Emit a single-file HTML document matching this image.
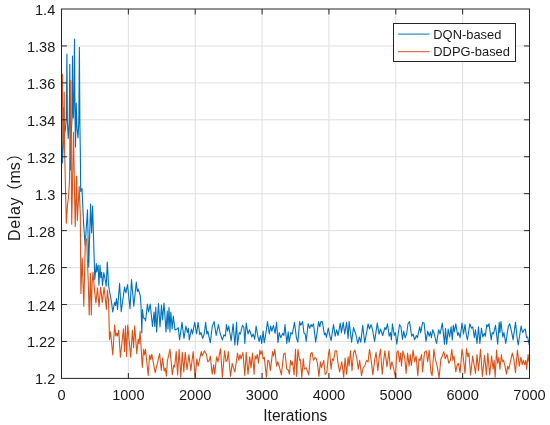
<!DOCTYPE html><html><head><meta charset="utf-8"><title>Delay</title><style>html,body{margin:0;padding:0;background:#fff}svg{display:block}text{font-family:"Liberation Sans","Noto Sans CJK SC",sans-serif;fill:#1a1a1a}</style></head><body>
<svg width="550" height="425" viewBox="0 0 550 425">
<rect width="550" height="425" fill="#fff"/>
<path d="M128.36 9.0V378.4M195.21 9.0V378.4M262.07 9.0V378.4M328.93 9.0V378.4M395.79 9.0V378.4M462.64 9.0V378.4M61.5 341.46H529.5M61.5 304.52H529.5M61.5 267.58H529.5M61.5 230.64H529.5M61.5 193.70H529.5M61.5 156.76H529.5M61.5 119.82H529.5M61.5 82.88H529.5M61.5 45.94H529.5" stroke="#dfdfdf" stroke-width="1" fill="none"/>
<path d="M61.5 68.0L61.9 125.0L62.4 163.0L63.2 146.0L64.3 135.0L65.3 130.0L66.3 118.0L66.9 54.0L67.4 122.0L68.2 138.4L69.2 122.0L69.8 64.3L70.1 130.0L70.5 170.0L71.2 135.0L72.0 118.0L72.5 56.0L72.9 105.0L73.3 118.0L73.9 100.0L74.5 39.0L75.0 115.0L75.5 147.0L76.2 103.0L77.0 128.0L78.0 138.0L78.8 122.0L79.4 47.2L79.9 125.0L80.3 150.0L80.7 191.5L82.0 188.5L83.5 222.0L85.1 245.0L87.5 209.8L88.7 267.0L90.6 204.0L91.6 233.0L92.6 206.0L93.6 240.0L94.8 279.5L96.3 263.5L96.8 272.0L98.1 265.0L98.9 285.2L100.0 265.3L100.8 277.7L101.6 272.3L102.5 285.5L103.8 272.5L105.2 280.0L106.2 286.2L107.3 262.0L108.6 286.0L111.5 302.0L112.7 312.0L114.6 302.4L115.5 305.5L116.5 298.5L117.5 309.4L119.6 283.3L121.2 311.6L124.6 287.1L125.9 292.8L127.5 284.5L130.0 308.7L131.5 279.5L133.8 306.2L136.3 282.0L137.3 291.5L138.2 289.0L140.2 295.4L141.0 305.0L141.8 333.0L142.5 309.5L143.4 317.5L145.0 319.0L145.6 321.0L147.4 304.0L148.6 312.0L150.2 304.0L152.5 326.5L154.0 312.0L154.8 326.5L155.8 307.0L156.6 332.0L158.5 303.5L160.0 327.0L161.5 305.0L162.5 320.0L164.0 303.0L166.0 332.0L167.2 311.0L168.0 329.0L169.0 307.5L170.0 332.0L170.8 312.0L172.2 329.0L173.3 316.0L175.0 330.0L177.0 329.0L178.2 327.5L179.6 339.9L182.0 322.4L184.0 338.4L185.9 326.0L187.4 332.6L188.4 328.2L189.3 339.9L191.4 329.0L192.5 334.0L194.7 322.4L196.6 334.0L198.1 322.4L199.8 334.8L201.0 332.6L202.7 338.4L204.2 334.0L205.7 322.4L206.8 334.0L207.8 331.1L210.3 342.8L212.2 326.8L214.1 321.6L216.2 335.5L218.4 324.6L220.3 334.0L222.4 339.9L223.9 334.8L225.4 336.2L226.4 324.6L227.6 331.1L228.7 326.0L231.2 340.6L233.1 323.8L234.9 345.0L236.6 322.4L237.5 345.0L239.2 332.6L240.4 334.0L242.4 325.3L243.9 327.5L244.8 343.5L246.2 323.1L248.0 334.0L249.5 329.7L250.6 333.0L251.8 337.0L253.2 334.0L254.7 339.2L256.1 326.0L257.6 334.8L259.1 341.4L260.5 335.5L261.7 343.5L263.1 331.1L264.2 342.8L265.3 337.0L267.5 321.6L269.3 334.0L270.7 326.0L271.9 331.1L273.4 325.3L275.1 333.3L276.6 322.4L278.0 342.8L279.2 332.6L280.7 337.7L282.8 333.3L283.9 335.5L285.0 324.6L286.8 343.5L288.2 331.9L289.1 342.1L290.9 332.6L292.3 334.0L294.5 322.4L296.4 337.7L297.9 342.1L299.6 321.6L300.8 325.3L302.6 321.6L304.0 333.3L305.2 334.0L306.2 341.4L308.1 323.8L309.6 328.2L311.0 324.6L312.0 326.8L313.5 323.8L315.7 342.1L318.6 321.6L319.8 326.8L320.8 321.6L322.3 321.6L324.5 334.8L325.5 333.0L326.4 337.5L328.3 328.0L329.4 334.0L331.1 340.6L333.5 324.6L335.2 336.2L336.7 329.7L338.1 335.5L340.3 323.1L341.4 332.6L343.2 322.4L344.7 334.0L346.6 322.4L348.1 338.4L349.1 321.6L351.6 342.1L353.5 327.5L355.7 334.0L357.8 343.5L359.3 337.0L360.8 342.1L362.7 325.3L364.7 342.8L366.6 332.6L368.1 323.8L369.5 329.0L371.0 324.6L372.4 329.0L374.6 341.4L377.3 323.1L379.0 334.0L380.5 329.0L382.7 335.5L384.9 327.5L386.0 329.7L387.5 323.8L389.2 336.2L390.4 332.6L391.4 339.9L392.4 323.8L394.3 335.5L395.4 332.6L396.8 344.3L399.5 324.6L400.9 326.8L402.5 339.5L403.7 331.1L405.1 337.7L406.6 334.0L408.0 323.8L409.5 321.6L411.7 336.2L413.1 334.0L414.6 339.9L416.4 335.5L417.5 337.7L419.7 326.8L420.7 332.6L422.6 322.4L424.1 323.1L426.0 341.4L427.7 331.1L429.2 336.2L430.4 331.9L431.4 337.7L432.8 329.7L434.3 334.0L436.5 343.5L438.7 329.7L440.1 334.0L442.3 323.1L444.5 344.3L445.5 328.2L446.7 344.3L448.2 329.0L449.6 337.0L451.1 326.8L452.3 339.9L453.3 325.3L454.3 331.9L455.8 323.8L457.7 335.5L458.7 332.6L460.1 337.7L462.0 323.1L463.5 334.0L465.0 324.6L466.4 335.5L467.4 339.9L469.8 323.8L471.5 328.2L472.8 326.8L474.4 337.7L475.5 329.7L477.0 343.5L478.5 326.8L479.9 343.5L481.4 328.2L482.8 337.0L484.3 333.3L485.3 336.2L486.8 324.6L487.8 326.8L489.0 323.8L491.2 339.9L492.2 332.6L493.4 334.0L495.5 325.3L497.7 344.3L499.2 322.4L499.9 332.6L500.9 321.6L502.8 337.0L503.9 332.6L505.8 343.5L508.2 326.8L509.7 323.8L511.6 331.9L513.1 339.9L515.5 322.4L517.0 337.0L518.2 345.0L521.1 326.0L522.6 332.6L523.7 330.4L525.2 329.0L526.6 337.7L527.7 337.0L529.2 345.0" stroke="#0072BD" stroke-width="1.1" fill="none" stroke-linejoin="round"/>
<path d="M61.5 104.0L62.0 84.0L62.4 74.2L62.8 122.0L63.1 147.0L63.5 108.0L63.8 138.0L64.2 92.0L64.6 150.0L65.3 180.0L66.3 223.2L67.6 204.0L68.7 195.0L69.5 180.0L70.3 120.0L70.8 80.6L71.2 150.0L71.7 224.2L72.6 180.0L73.5 132.2L74.3 180.0L75.2 226.4L76.5 176.0L77.3 220.6L79.2 186.5L80.3 215.0L80.9 293.5L82.2 258.0L83.8 306.2L85.4 238.3L86.1 241.0L86.6 238.7L88.3 283.0L89.2 315.0L90.4 273.3L91.3 315.0L92.1 284.0L93.0 272.0L94.5 290.0L95.9 303.0L97.5 287.7L99.0 306.8L100.6 287.0L102.3 302.4L104.1 287.0L106.4 309.4L107.4 290.3L108.5 300.0L109.5 339.7L110.5 331.7L112.8 355.0L114.6 325.1L115.8 336.0L116.8 333.1L117.5 336.0L118.7 330.2L120.4 357.2L123.4 328.8L124.5 351.4L125.5 325.8L126.6 356.5L127.7 325.1L130.7 357.2L132.4 330.2L133.6 347.7L134.7 325.8L136.8 353.6L138.2 339.0L139.1 344.0L140.1 331.0L142.3 367.4L143.5 349.2L144.5 355.0L145.5 349.2L148.2 375.5L149.6 355.0L150.7 359.4L151.8 354.3L155.2 372.6L157.2 363.8L159.6 353.6L161.3 370.4L162.5 358.0L164.2 371.0L165.3 368.0L166.4 376.2L167.4 361.0L170.0 349.2L172.3 374.7L173.7 365.3L174.6 367.0L176.2 351.6L177.6 374.9L179.1 349.4L180.8 377.1L182.3 352.3L183.8 372.0L185.2 352.3L187.0 369.8L188.9 354.5L190.8 370.6L193.2 351.6L195.1 377.1L196.9 358.9L198.1 366.2L201.3 351.6L202.0 356.0L204.6 350.8L206.4 354.5L207.8 361.8L209.3 360.3L210.3 356.0L212.2 374.2L213.7 364.7L214.7 374.2L216.6 356.7L218.0 361.8L220.5 348.7L222.4 377.1L224.6 350.8L226.1 361.8L227.3 359.6L228.3 351.6L230.5 376.4L232.2 363.3L233.4 367.6L234.9 372.0L237.5 353.0L238.9 360.3L240.0 354.5L241.0 358.9L242.9 352.3L244.8 375.7L246.2 352.3L248.0 374.2L249.7 356.7L251.0 368.0L252.5 353.0L254.1 374.2L255.1 356.0L256.1 358.9L257.3 354.5L258.5 363.3L259.9 350.1L260.9 354.5L262.0 350.8L263.1 358.9L264.3 357.4L266.4 377.1L267.8 360.3L269.0 361.1L270.4 370.6L272.6 351.6L273.6 356.0L274.8 349.4L276.6 366.2L277.7 361.8L279.2 366.2L281.4 374.9L283.6 354.5L285.0 353.0L286.8 369.1L288.2 369.8L289.4 374.2L290.6 360.3L291.6 364.7L292.6 361.8L294.1 374.9L295.5 349.4L296.7 376.4L297.9 349.4L299.6 360.3L300.4 359.6L301.8 377.1L303.3 358.9L304.3 369.1L306.2 367.6L307.2 370.6L308.7 374.9L310.6 353.8L312.0 352.3L313.5 360.3L315.0 357.4L316.4 358.9L317.4 363.3L318.9 376.4L320.4 361.8L321.5 367.6L323.7 360.3L325.2 374.5L326.8 372.7L328.6 353.0L329.4 349.4L331.1 369.1L332.3 358.9L333.5 360.3L335.2 350.8L336.7 350.8L337.8 361.8L339.6 372.0L341.8 361.8L343.7 377.1L345.1 358.1L346.6 374.2L348.1 356.7L349.1 366.2L350.5 350.8L352.0 370.6L353.5 353.0L354.9 350.1L356.8 358.1L358.3 369.1L359.7 360.3L361.5 375.7L363.2 367.6L364.7 366.2L366.6 360.3L368.1 361.8L369.5 349.4L371.0 358.9L372.9 374.9L374.6 360.3L376.1 352.3L377.8 370.6L379.3 356.0L380.5 349.4L382.2 374.2L383.7 360.3L384.9 350.8L387.0 366.9L388.9 350.8L390.4 369.1L391.9 361.8L393.3 366.9L395.4 377.1L396.8 352.3L398.0 350.8L399.5 361.8L400.6 353.0L401.5 366.2L402.9 350.8L404.7 357.4L406.1 373.5L407.6 353.0L409.1 366.2L410.2 354.5L411.4 365.4L413.1 350.1L414.6 361.8L416.1 356.0L417.8 375.7L419.0 358.9L420.1 360.3L421.6 354.5L422.6 372.0L424.5 352.3L426.3 350.8L427.7 361.8L429.2 350.1L430.9 372.0L432.1 375.7L433.9 349.4L435.3 358.9L437.2 366.2L439.1 377.8L440.9 358.9L442.3 356.0L443.8 351.6L445.3 358.9L447.0 354.5L448.9 363.3L450.4 360.3L451.8 349.4L452.8 360.3L454.0 356.0L455.8 372.0L457.2 364.7L458.4 363.3L460.1 372.7L462.0 349.4L463.1 356.0L465.0 373.5L466.4 348.7L467.9 356.7L468.9 353.0L470.6 375.0L471.6 366.2L472.6 356.0L474.1 364.7L475.5 373.5L477.0 354.5L478.5 370.6L480.5 349.4L482.4 376.4L484.6 355.2L486.4 374.9L487.8 353.0L489.7 374.9L491.6 356.0L493.1 369.1L494.1 360.3L495.1 377.1L496.6 350.1L497.7 363.3L498.9 357.4L499.9 369.1L501.4 354.5L502.4 361.8L503.6 360.3L505.0 366.2L506.5 374.2L507.7 366.2L508.7 369.1L510.1 363.3L512.3 353.0L513.8 358.9L515.5 372.7L517.4 350.1L519.3 366.2L520.8 357.4L522.3 364.7L523.3 360.3L524.7 364.7L525.8 360.3L526.6 369.1L528.1 354.5L528.9 361.8" stroke="#D95319" stroke-width="1.1" fill="none" stroke-linejoin="round"/>
<rect x="61.5" y="9.0" width="468.0" height="369.4" fill="none" stroke="#262626" stroke-width="1"/>
<path d="M128.36 378.4v-5.4M128.36 9.0v5.4M195.21 378.4v-5.4M195.21 9.0v5.4M262.07 378.4v-5.4M262.07 9.0v5.4M328.93 378.4v-5.4M328.93 9.0v5.4M395.79 378.4v-5.4M395.79 9.0v5.4M462.64 378.4v-5.4M462.64 9.0v5.4M61.5 341.46h5.4M529.5 341.46h-5.4M61.5 304.52h5.4M529.5 304.52h-5.4M61.5 267.58h5.4M529.5 267.58h-5.4M61.5 230.64h5.4M529.5 230.64h-5.4M61.5 193.70h5.4M529.5 193.70h-5.4M61.5 156.76h5.4M529.5 156.76h-5.4M61.5 119.82h5.4M529.5 119.82h-5.4M61.5 82.88h5.4M529.5 82.88h-5.4M61.5 45.94h5.4M529.5 45.94h-5.4" stroke="#262626" stroke-width="1" fill="none"/>
<text x="61.50" y="400" font-size="14.6" text-anchor="middle">0</text>
<text x="128.36" y="400" font-size="14.6" text-anchor="middle">1000</text>
<text x="195.21" y="400" font-size="14.6" text-anchor="middle">2000</text>
<text x="262.07" y="400" font-size="14.6" text-anchor="middle">3000</text>
<text x="328.93" y="400" font-size="14.6" text-anchor="middle">4000</text>
<text x="395.79" y="400" font-size="14.6" text-anchor="middle">5000</text>
<text x="462.64" y="400" font-size="14.6" text-anchor="middle">6000</text>
<text x="529.50" y="400" font-size="14.6" text-anchor="middle">7000</text>
<text x="55.3" y="384.40" font-size="14.6" text-anchor="end">1.2</text>
<text x="55.3" y="347.46" font-size="14.6" text-anchor="end">1.22</text>
<text x="55.3" y="310.52" font-size="14.6" text-anchor="end">1.24</text>
<text x="55.3" y="273.58" font-size="14.6" text-anchor="end">1.26</text>
<text x="55.3" y="236.64" font-size="14.6" text-anchor="end">1.28</text>
<text x="55.3" y="199.70" font-size="14.6" text-anchor="end">1.3</text>
<text x="55.3" y="162.76" font-size="14.6" text-anchor="end">1.32</text>
<text x="55.3" y="125.82" font-size="14.6" text-anchor="end">1.34</text>
<text x="55.3" y="88.88" font-size="14.6" text-anchor="end">1.36</text>
<text x="55.3" y="51.94" font-size="14.6" text-anchor="end">1.38</text>
<text x="55.3" y="15.00" font-size="14.6" text-anchor="end">1.4</text>
<text x="295.3" y="421.3" font-size="15.6" text-anchor="middle">Iterations</text>
<text transform="translate(20 240.9) rotate(-90)" font-size="16"><tspan x="0" letter-spacing="0.65">Delay</tspan><tspan x="41.4">（ms</tspan><tspan x="79.6">）</tspan></text>
<rect x="393.5" y="23.5" width="122" height="38" fill="#fff" stroke="#262626" stroke-width="1"/>
<path d="M398 34.1H429.6" stroke="#0072BD" stroke-width="1"/>
<path d="M398 51.7H429.6" stroke="#D95319" stroke-width="1"/>
<text x="433.3" y="38.9" font-size="12.9">DQN-based</text>
<text x="433.3" y="56.4" font-size="12.9">DDPG-based</text>
</svg></body></html>
